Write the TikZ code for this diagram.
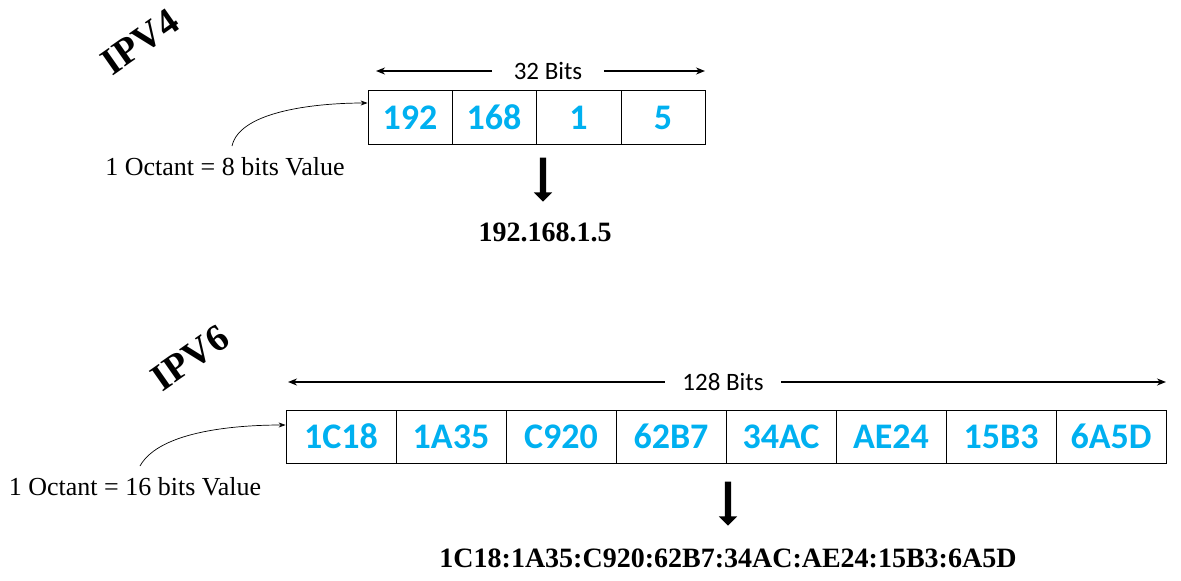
\documentclass[tikz,border=0pt]{standalone}
\usepackage{fontspec}
\setmainfont{Liberation Serif}
\newfontfamily\calfont{Carlito}
\usetikzlibrary{arrows.meta,shapes.arrows}
\definecolor{ipblue}{RGB}{0,176,240}
\tikzset{
 cell/.style={draw,line width=0.8pt,minimum height=54pt,inner sep=0pt,font=\calfont\bfseries\fontsize{36}{36}\selectfont,text=ipblue},
 dim/.style={-{Stealth[length=9pt,width=7pt]},line width=2.2pt},
 title/.style={font=\bfseries\fontsize{38}{38}\selectfont,rotate=35},
 lab/.style={font=\fontsize{26}{26}\selectfont},
 res/.style={font=\bfseries\fontsize{28}{28}\selectfont},
 bits/.style={font=\calfont\fontsize{25}{25}\selectfont},
 down/.style={single arrow,fill=black,draw=none,rotate=-90,minimum height=44pt,single arrow head extend=6pt,minimum width=16pt,inner sep=3pt},
 curve/.style={-{Stealth[length=7pt,width=5pt]},line width=0.7pt}
}
\begin{document}
\begin{tikzpicture}[x=1pt,y=-1pt]
\useasboundingbox (0,0) rectangle (1181,581);
% IPV4
\node[title] (t4) at (140,42) {IPV4};
\foreach \n/\xa/\xb/\t in {a/368/452/192,b/452/536/168,c/536/621/1,d/621/705/5}
  \node[cell,minimum width={\xb-\xa}] (v4\n) at ({(\xa+\xb)/2},117.5) {\t};
\node[bits] (b32) at (548,71) {32 Bits};
\coordinate (l4) at (376,71); \coordinate (r4) at (705,71);
\draw[dim] ([xshift=-18pt]b32.west) -- (l4);
\draw[dim] ([xshift=18pt]b32.east) -- (r4);
\node[lab] (o4) at (225,167) {1 Octant = 8 bits Value};
\coordinate (c4) at (232,146);
\draw[curve] (c4) .. controls (240,110) and (320,103) .. (v4a.west |- 0,103);
\node[down] (d4) at (543,178) {};
\node[res] (r4t) at (545,232) {192.168.1.5};
% IPV6
\node[title] (t6) at (190,358) {IPV6};
\foreach \i/\t in {0/1C18,1/1A35,2/C920,3/62B7,4/34AC,5/AE24,6/15B3,7/6A5D}
  \node[cell,minimum width=110pt,minimum height=53pt] (v6\i) at ({341+110*\i},436.5) {\t};
\node[bits] (b128) at (723,382) {128 Bits};
\coordinate (l6) at (288,382); \coordinate (r6) at (1166,382);
\draw[dim] ([xshift=-14pt]b128.west) -- (l6);
\draw[dim] ([xshift=14pt]b128.east) -- (r6);
\node[lab] (o6) at (135,487) {1 Octant = 16 bits Value};
\coordinate (c6) at (140,466);
\draw[curve] (c6) .. controls (160,430) and (240,425) .. (v60.west |- 0,425);
\node[down] (d6) at (728,502) {};
\node[res] (r6t) at (728,558) {1C18:1A35:C920:62B7:34AC:AE24:15B3:6A5D};
\end{tikzpicture}
\end{document}
